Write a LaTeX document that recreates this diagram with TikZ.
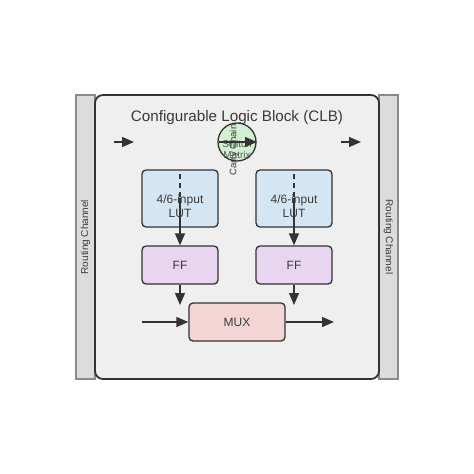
\documentclass[tikz,border=0pt]{standalone}
\usepackage{fontspec}
\setmainfont{Liberation Sans}
\usetikzlibrary{arrows.meta}
\definecolor{edge}{HTML}{333333}
\definecolor{txt}{HTML}{3A3A3A}
\definecolor{chan}{HTML}{DCDCDC}
\definecolor{chanb}{HTML}{8A8A8A}
\definecolor{clbf}{HTML}{EFEFEF}
\definecolor{lutf}{HTML}{D4E6F3}
\definecolor{fff}{HTML}{E8D5F0}
\definecolor{muxf}{HTML}{F3D5D5}
\definecolor{swf}{HTML}{D3F0D3}
\tikzset{
  box/.style={draw=edge, line width=1.3pt, rounded corners=4pt, inner sep=0pt, text=txt, font=\fontsize{12}{14}\selectfont, align=center},
  chanbox/.style={draw=chanb, fill=chan, line width=1.2pt, inner sep=0pt},
  arr/.style={draw=edge, line width=1.3pt, -{Triangle[length=12pt,width=10pt]}},
  dashline/.style={draw=edge, line width=1.3pt, dash pattern=on 5pt off 4pt}
}
\begin{document}
\begin{tikzpicture}[x=1pt,y=-1pt]
\useasboundingbox (0,0) rectangle (474,474);
\fill[white] (0,0) rectangle (474,474);
% routing channels
\node[chanbox, minimum width=19pt, minimum height=284pt] (lch) at (85.5,237) {};
\node[chanbox, minimum width=19pt, minimum height=284pt] (rch) at (388.5,237) {};
\node[rotate=90, text=txt, font=\fontsize{10}{11}\selectfont] (lcht) at (lch.center) {Routing Channel};
\node[rotate=-90, text=txt, font=\fontsize{10}{11}\selectfont] (rcht) at (rch.center) {Routing Channel};
% CLB
\node[draw=edge, fill=clbf, line width=1.8pt, rounded corners=8pt, minimum width=284pt, minimum height=284pt, inner sep=0pt] (clb) at (237,237) {};
\node[text=txt, font=\fontsize{15.2}{18}\selectfont] (title) at (237,118) {Configurable Logic Block (CLB)};
% side arrows
\coordinate (la1) at (114,142); \coordinate (la2) at (134,142);
\coordinate (ra1) at (341,142); \coordinate (ra2) at (361,142);
\draw[arr] (la1) -- (la2);
\draw[arr] (ra1) -- (ra2);
% switch matrix
\node[draw=edge, fill=swf, line width=1.3pt, circle, minimum size=38pt, inner sep=0pt] (sw) at (237,142) {};
\node[text=txt!85, font=\fontsize{10}{11}\selectfont, align=center] (swt) at (237,149) {Switch\\Matrix};
\coordinate (sa1) at (219,142); \coordinate (sa2) at (257,142);
\draw[arr] (sa1) -- (sa2);
\node[rotate=90, text=txt, font=\fontsize{9.5}{10}\selectfont] (carry) at (234,150) {Carry Chain};
% LUTs
\node[box, fill=lutf, minimum width=76pt, minimum height=57pt] (lut1) at (180,198.5) {};
\node[box, fill=lutf, minimum width=76pt, minimum height=57pt] (lut2) at (294,198.5) {};
\node[text=txt, font=\fontsize{12}{14}\selectfont, align=center] (lut1t) at (180,206) {4/6-input\\LUT};
\node[text=txt, font=\fontsize{12}{14}\selectfont, align=center] (lut2t) at (294,206) {4/6-input\\LUT};
% FFs
\node[box, fill=fff, minimum width=76pt, minimum height=38pt] (ff1) at (180,265) {FF};
\node[box, fill=fff, minimum width=76pt, minimum height=38pt] (ff2) at (294,265) {FF};
% MUX
\node[box, fill=muxf, minimum width=96pt, minimum height=38pt] (mux) at (237,322) {MUX};
% LUT internal dashed + arrows
\coordinate (d1a) at (180,174); \coordinate (d1b) at (180,198);
\coordinate (d2a) at (294,174); \coordinate (d2b) at (294,198);
\draw[dashline] (d1a) -- (d1b);
\draw[dashline] (d2a) -- (d2b);
\draw[arr] (d1b) -- (ff1.north);
\draw[arr] (d2b) -- (ff2.north);
\coordinate (m1) at (180,305); \coordinate (m2) at (294,305);
\draw[arr] (ff1.south) -- (m1);
\draw[arr] (ff2.south) -- (m2);
\coordinate (in) at (142,322); \coordinate (out) at (334,322);
\draw[arr] (in) -- (mux.west);
\draw[arr] (mux.east) -- (out);
\end{tikzpicture}
\end{document}
